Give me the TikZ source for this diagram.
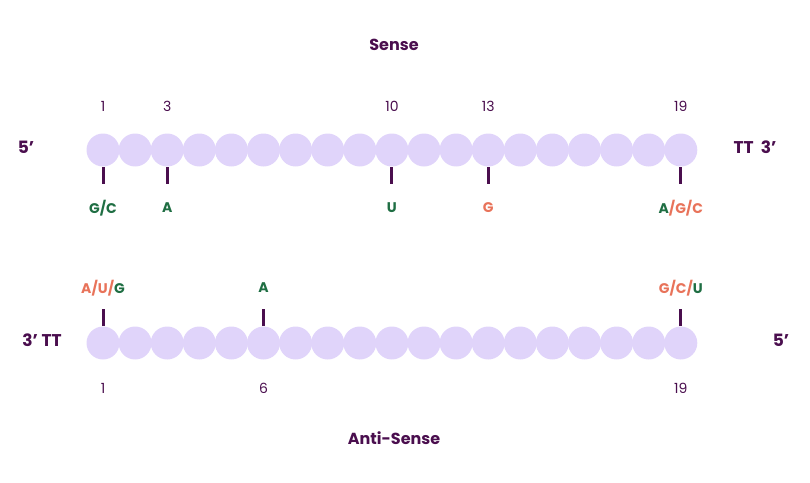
\documentclass[tikz,border=0pt]{standalone}
\usepackage{fontspec}
\setmainfont{Poppins}
\usetikzlibrary{calc}
\definecolor{dp}{HTML}{4A0E4E}
\definecolor{gr}{HTML}{1F6E43}
\definecolor{sa}{HTML}{E8735A}
\definecolor{lv}{HTML}{E0D4FA}
\begin{document}
\begin{tikzpicture}[x=1pt,y=-1pt,
 bead/.style={circle,fill=lv,minimum size=33pt,inner sep=0pt},
 tick/.style={dp,line width=3pt},
 num/.style={text=dp,font=\fontsize{14}{16}\selectfont},
 base/.style={font=\fontsize{14}{16}\selectfont\bfseries},
 endl/.style={text=dp,font=\fontsize{17}{19}\selectfont\bfseries},
 ttl/.style={text=dp,font=\fontsize{16}{18}\selectfont\bfseries}]
\useasboundingbox (0,0) rectangle (810,482);
\foreach \i in {1,...,19} {
  \node[bead] (t\i) at ({103+(\i-1)*32.1},150) {};
  \node[bead] (b\i) at ({103+(\i-1)*32.1},343) {};
}
\node[ttl] (st) at (394,45) {Sense};
\node[ttl] (ast) at (394,438) {Anti-Sense};
\node[endl] (l5) at (26,147) {5’};
\node[endl] (r3) at (755,147) {TT\ \ 3’};
\node[endl] (l3) at (42,340) {3’ TT};
\node[endl] (r5) at (781,340) {5’};
\foreach \i/\n in {1/1,3/3,10/10,13/13,19/19} {
  \node[num] (tn\i) at ($(t\i)+(0,-44)$) {\n};
  \draw[tick] ($(t\i)+(0,17)$) coordinate (ta\i) -- ++(0,17) coordinate (tb\i);
}
\foreach \i/\n in {1/1,6/6,19/19} {
  \node[num] (bn\i) at ($(b\i)+(0,45)$) {\n};
  \draw[tick] ($(b\i)+(0,-17)$) coordinate (ba\i) -- ++(0,-17) coordinate (bb\i);
}
\node[base] (tl1) at ($(t1)+(0,58)$) {\textcolor{gr}{G/C}};
\node[base] (tl3) at ($(t3)+(0,58)$) {\textcolor{gr}{A}};
\node[base] (tl10) at ($(t10)+(0,58)$) {\textcolor{gr}{U}};
\node[base] (tl13) at ($(t13)+(0,58)$) {\textcolor{sa}{G}};
\node[base] (tl19) at ($(t19)+(0,58)$) {\textcolor{gr}{A}\textcolor{sa}{/G/C}};
\node[base] (bl1) at ($(b1)+(0,-55)$) {\textcolor{sa}{A/U/}\textcolor{gr}{G}};
\node[base] (bl6) at ($(b6)+(0,-55)$) {\textcolor{gr}{A}};
\node[base] (bl19) at ($(b19)+(0,-55)$) {\textcolor{sa}{G/C/}\textcolor{gr}{U}};
\end{tikzpicture}
\end{document}
